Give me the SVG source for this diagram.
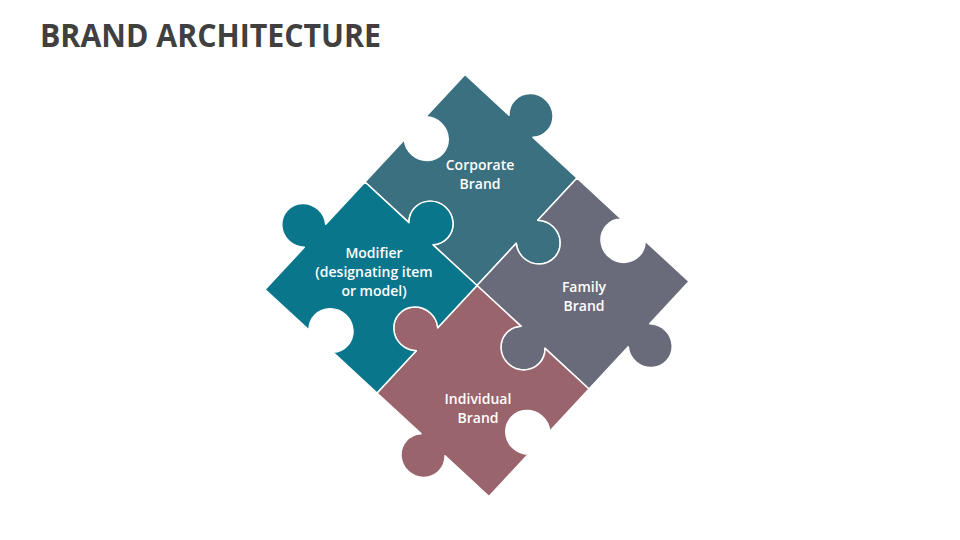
<svg xmlns="http://www.w3.org/2000/svg" width="960" height="540" viewBox="0 0 960 540">
  <style>
    .piece { stroke: #ffffff; stroke-width: 1.5; stroke-linejoin: round; }
    .lbl { font-family: "Open Sans", "Liberation Sans", sans-serif; font-size: 14px; font-weight: 600; fill: #ffffff; text-anchor: middle; }
    .title { font-family: "Open Sans", "Liberation Sans", sans-serif; font-size: 33px; font-weight: 700; fill: #404040; }
  </style>
  <rect width="960" height="540" fill="#ffffff"/>
  <text class="title" x="40" y="46.5" textLength="341" lengthAdjust="spacingAndGlyphs">BRAND ARCHITECTURE</text>
  <g id="puzzle" transform="matrix(0.7467 0.69 -0.6667 0.7167 465 74.5)">
    <g id="corporate">
      <path class="piece" fill="#3A7080" d="M0,0 L58.9,0 A22,22 0 1 1 91.1,0 L150,0 L150,58.9 A22,22 0 1 1 150,91.1 L150,150 L91.1,150 A22,22 0 1 0 58.9,150 L0,150 L0,91.1 A22,22 0 1 0 0,58.9 Z"/>
    </g>
    <g id="family">
      <path class="piece" fill="#6A6B7A" d="M150,0 L208.9,0 A22,22 0 1 0 241.1,0 L300,0 L300,58.9 A22,22 0 1 1 300,91.1 L300,150 L241.1,150 A22,22 0 1 1 208.9,150 L150,150 L150,91.1 A22,22 0 1 0 150,58.9 Z"/>
    </g>
    <g id="individual">
      <path class="piece" fill="#9A646D" d="M150,150 L208.9,150 A22,22 0 1 0 241.1,150 L300,150 L300,208.9 A22,22 0 1 0 300,241.1 L300,300 L241.1,300 A22,22 0 1 1 208.9,300 L150,300 L150,241.1 A22,22 0 1 1 150,208.9 Z"/>
    </g>
    <g id="modifier">
      <path class="piece" fill="#0A768C" d="M0,150 L58.9,150 A22,22 0 1 1 91.1,150 L150,150 L150,208.9 A22,22 0 1 0 150,241.1 L150,300 L91.1,300 A22,22 0 1 0 58.9,300 L0,300 L0,241.1 A22,22 0 1 1 0,208.9 Z"/>
    </g>
  </g>
  <g id="labels">
    <text class="lbl" x="480" y="170">Corporate</text>
    <text class="lbl" x="480" y="189">Brand</text>
    <text class="lbl" x="374" y="258">Modifier</text>
    <text class="lbl" x="374" y="277">(designating item</text>
    <text class="lbl" x="374" y="296">or model)</text>
    <text class="lbl" x="584" y="292">Family</text>
    <text class="lbl" x="584" y="311">Brand</text>
    <text class="lbl" x="478" y="404">Individual</text>
    <text class="lbl" x="478" y="423">Brand</text>
  </g>
  <g id="connectors"/>
</svg>
